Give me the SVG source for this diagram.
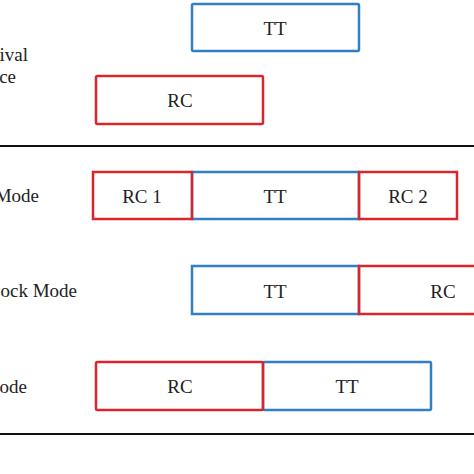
<svg xmlns="http://www.w3.org/2000/svg" width="474" height="474" viewBox="0 0 474 474">
<style>
.b{fill:#fff;stroke:#2f80c3;stroke-width:2.5}
.r{fill:none;stroke:#d9252d;stroke-width:2.5}
.t{font-family:"Liberation Serif",serif;font-size:19px;fill:#222;text-anchor:middle}
.l{font-family:"Liberation Serif",serif;font-size:19px;fill:#222;text-anchor:end}
.sep{stroke:#111;stroke-width:2}
</style>
<rect width="474" height="474" fill="#fff"/>
<g id="labels">
<text class="l" x="28" y="61">ival</text>
<text class="l" x="16" y="83">ce</text>
<text class="l" x="39" y="202">Mode</text>
<text class="l" x="77" y="297">ock Mode</text>
<text class="l" x="27" y="393">ode</text>
</g>
<g id="separators">
<line class="sep" x1="0" y1="146" x2="474" y2="146"/>
<line class="sep" x1="0" y1="434" x2="474" y2="434"/>
</g>
<g id="row1-tt"><rect class="b" x="192" y="4" width="167" height="47" rx="1.5"/><text class="t" x="275" y="35">TT</text></g>
<g id="row1-rc"><rect class="r" x="96" y="76" width="167" height="48" rx="1.5"/><text class="t" x="180" y="107">RC</text></g>
<g id="row2-tt"><rect class="b" x="192" y="172" width="167" height="47"/><text class="t" x="275" y="203">TT</text></g>
<g id="row2-rc1"><rect class="r" x="93" y="172" width="99" height="47"/><text class="t" x="142" y="203">RC 1</text></g>
<g id="row2-rc2"><rect class="r" x="359" y="172" width="98" height="47"/><text class="t" x="408" y="203">RC 2</text></g>
<g id="row3-tt"><rect class="b" x="192" y="266" width="167" height="48"/><text class="t" x="275" y="298">TT</text></g>
<g id="row3-rc"><rect class="r" x="359" y="266" width="167" height="48"/><text class="t" x="443" y="298">RC</text></g>
<g id="row4-tt"><rect class="b" x="263" y="362" width="168" height="48" rx="1.5"/><text class="t" x="347" y="393">TT</text></g>
<g id="row4-rc"><rect class="r" x="96" y="362" width="167" height="48" rx="1.5"/><text class="t" x="180" y="393">RC</text></g>
</svg>
